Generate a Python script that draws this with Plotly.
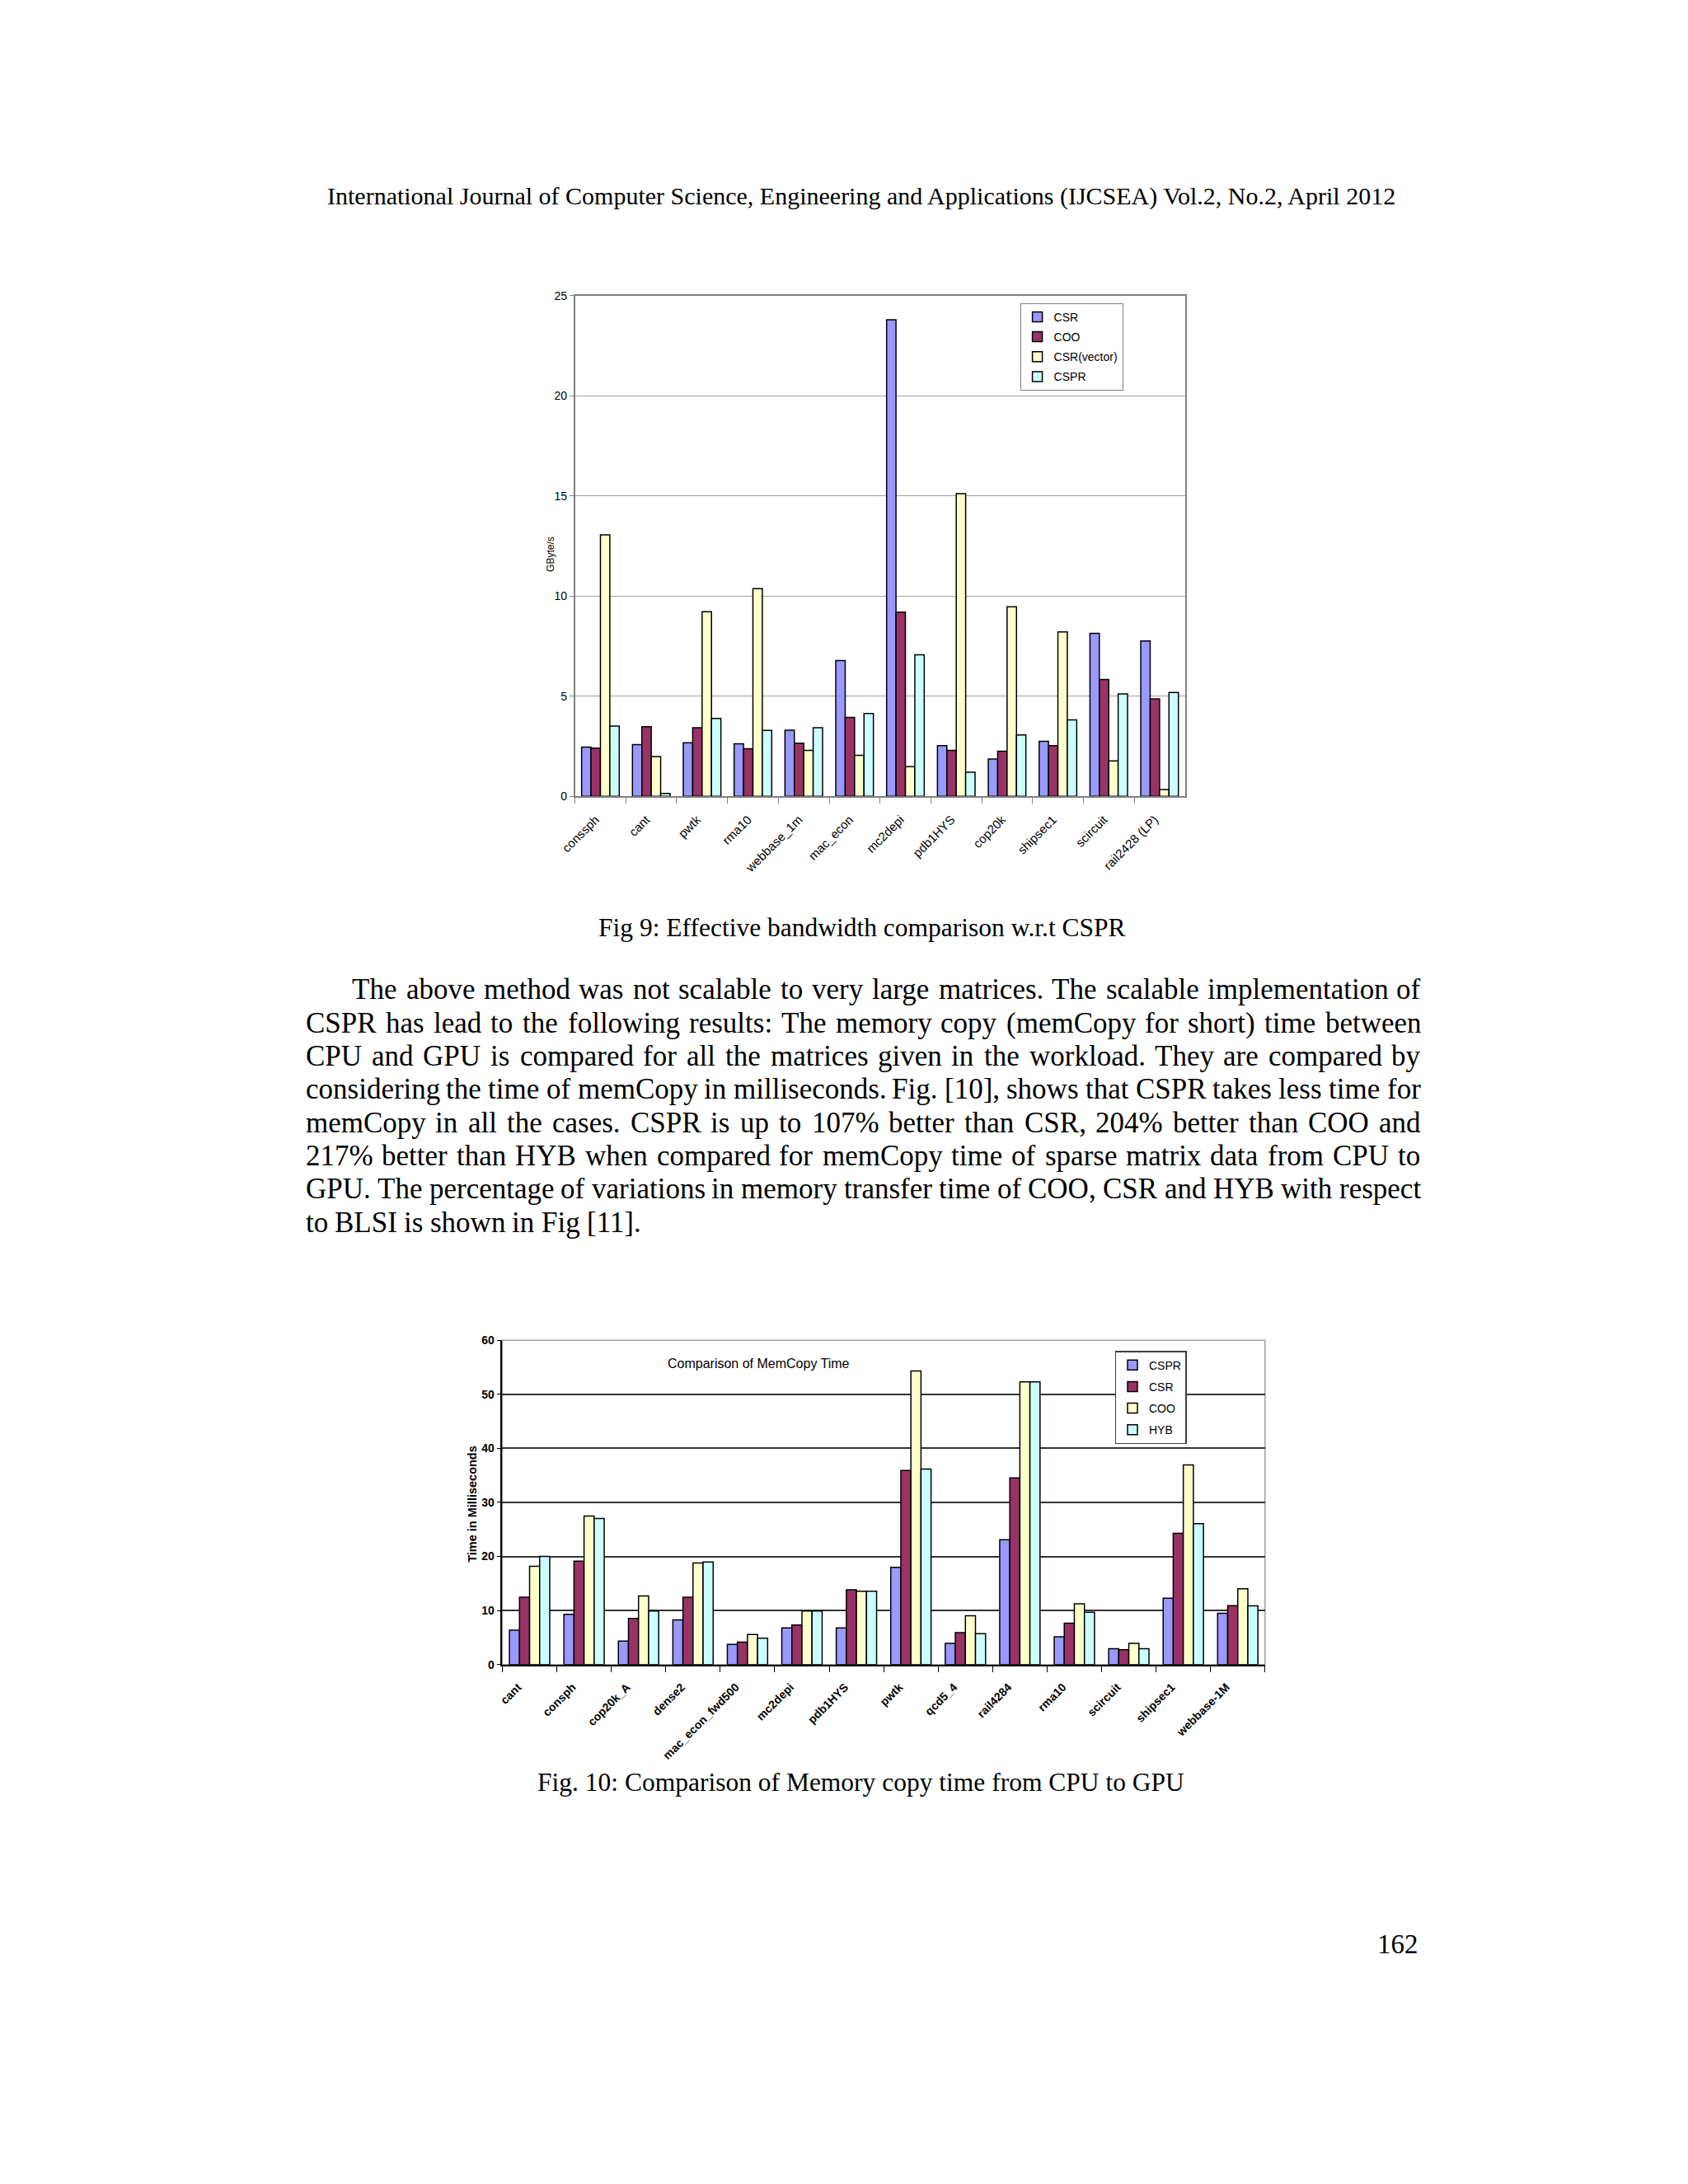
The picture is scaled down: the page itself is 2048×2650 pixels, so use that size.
import plotly.graph_objects as go

W, H = 2048, 2650

# ---------------- Fig 9 data ----------------
top_categories = ["conssph", "cant", "pwtk", "rma10", "webbase_1m", "mac_econ",
                  "mc2depi", "pdb1HYS", "cop20k", "shipsec1", "scircuit", "rail2428 (LP)"]
top_csr = [2.46, 2.58, 2.67, 2.62, 3.30, 6.78, 23.80, 2.53, 1.86, 2.74, 8.14, 7.76]
top_coo = [2.41, 3.48, 3.42, 2.37, 2.65, 3.94, 9.20, 2.29, 2.25, 2.53, 5.83, 4.87]
top_csr_vector = [13.06, 1.98, 9.22, 10.37, 2.29, 2.05, 1.48, 15.11, 9.46, 8.21, 1.77, 0.34]
top_cspr = [3.51, 0.14, 3.89, 3.29, 3.42, 4.13, 7.07, 1.20, 3.06, 3.82, 5.11, 5.18]
top_yticks = [0, 5, 10, 15, 20, 25]

# ---------------- Fig 10 data ----------------
bot_categories = ["cant", "consph", "cop20k_A", "dense2", "mac_econ_fwd500", "mc2depi",
                  "pdb1HYS", "pwtk", "qcd5_4", "rail4284", "rma10", "scircuit",
                  "shipsec1", "webbase-1M"]
bot_cspr = [6.36, 9.29, 4.34, 8.28, 3.74, 6.77, 6.77, 17.98, 3.94, 23.08, 5.15, 2.93, 12.27, 9.49]
bot_csr = [12.47, 19.14, 8.54, 12.47, 4.14, 7.32, 13.84, 35.90, 5.91, 34.55, 7.68, 2.73, 24.29, 10.91]
bot_coo = [18.18, 27.47, 12.68, 18.79, 5.56, 9.90, 13.59, 54.30, 9.04, 52.30, 11.26, 3.94, 36.92, 14.04]
bot_hyb = [20.00, 27.02, 9.90, 18.99, 4.90, 9.90, 13.59, 36.16, 5.71, 52.30, 9.70, 2.93, 26.06, 10.86]
bot_yticks = [0, 10, 20, 30, 40, 50, 60]

C_BLUE, C_MAROON, C_YELLOW, C_CYAN = "#9999FF", "#993366", "#FFFFCC", "#CCFFFF"

def px_x(x):
    return x / W

def px_y(y):
    return 1 - y / H

fig = go.Figure()

for name, vals, col in [("CSR", top_csr, C_BLUE), ("COO", top_coo, C_MAROON),
                        ("CSR(vector)", top_csr_vector, C_YELLOW), ("CSPR", top_cspr, C_CYAN)]:
    fig.add_trace(go.Bar(x=top_categories, y=vals, name=name, marker=dict(color=col, line=dict(color="#000000", width=1.5)),
                         xaxis="x", yaxis="y", legend="legend", legendgroup="t" + name))

for name, vals, col in [("CSPR", bot_cspr, C_BLUE), ("CSR", bot_csr, C_MAROON),
                        ("COO", bot_coo, C_YELLOW), ("HYB", bot_hyb, C_CYAN)]:
    fig.add_trace(go.Bar(x=bot_categories, y=vals, name=name, marker=dict(color=col, line=dict(color="#000000", width=1.5)),
                         xaxis="x2", yaxis="y2", legend="legend2", legendgroup="b" + name))

SANS = "Liberation Sans"
NARROW = "Liberation Sans Narrow, Liberation Sans"
SERIF = "Liberation Serif"

fig.update_layout(
    width=W, height=H, autosize=False,
    margin=dict(l=0, r=0, t=0, b=0),
    paper_bgcolor="white", plot_bgcolor="white",
    barmode="group", bargap=0.26, bargroupgap=0,
    xaxis=dict(domain=[px_x(685), px_x(1432)], anchor="y", type="category",
               showline=True, linecolor="#808080", linewidth=1.5, mirror=True,
               ticks="outside", tickson="boundaries", ticklen=7, tickcolor="#808080",
               tickangle=-45, tickfont=dict(family=SANS, size=15, color="#000"), showgrid=False,
               ticklabelstandoff=12, ticklabelshift=-6),
    yaxis=dict(domain=[px_y(964), px_y(353)], anchor="x", range=[0, 25], tickvals=top_yticks,
               showgrid=True, gridcolor="#a0a0a0", gridwidth=1.2, zeroline=False,
               showline=True, linecolor="#808080", linewidth=1.5, mirror=True,
               ticks="outside", ticklen=5, tickcolor="#808080",
               tickfont=dict(family=SANS, size=14, color="#000")),
    xaxis2=dict(domain=[px_x(596), px_x(1530)], anchor="y2", type="category",
                showline=True, linecolor="#000000", linewidth=1.5, mirror=False,
                ticks="outside", tickson="boundaries", ticklen=7, tickcolor="#000",
                tickangle=-45, tickfont=dict(family=SANS, size=14, color="#000", weight="bold"), showgrid=False,
                ticklabelstandoff=12, ticklabelshift=-14),
    yaxis2=dict(domain=[px_y(2024), px_y(1628)], anchor="x2", range=[0, 60], tickvals=bot_yticks,
                showgrid=True, gridcolor="#333333", gridwidth=1.8, zeroline=False,
                showline=True, linecolor="#000000", linewidth=1.5, mirror=False,
                ticks="outside", ticklen=5, tickcolor="#000",
                tickfont=dict(family=SANS, size=14, color="#000", weight="bold")),
    legend=dict(x=px_x(1230), y=px_y(362), xanchor="left", yanchor="top",
                bgcolor="white", bordercolor="#808080", borderwidth=1,
                font=dict(family=NARROW, size=14, color="#000"), itemwidth=30,
                traceorder="grouped", tracegroupgap=3),
    legend2=dict(x=px_x(1346), y=px_y(1641), xanchor="left", yanchor="top",
                 bgcolor="white", bordercolor="#404040", borderwidth=1.5,
                 font=dict(family=NARROW, size=14, color="#000"), itemwidth=30,
                 traceorder="grouped", tracegroupgap=5),
    showlegend=True,
)

# light border of bottom plot area (top/right)
fig.add_shape(type="rect", xref="x2 domain", yref="y2 domain", x0=0, x1=1, y0=0, y1=1,
              line=dict(color="#a0a0a0", width=1.5), layer="below")

ann = []

def text(x, y, s, size, family=SERIF, xanchor="center", angle=0, weight="normal"):
    ann.append(dict(x=px_x(x), y=px_y(y), xref="paper", yref="paper", text=s, showarrow=False,
                    xanchor=xanchor, yanchor="middle", textangle=angle, borderpad=0, borderwidth=0,
                    font=dict(family=family, size=size, color="#000", weight=weight)))

text(1036, 231, "International Journal of Computer Science, Engineering and Applications (IJCSEA) Vol.2, No.2, April 2012", 30)
text(1037, 1124, "Fig 9: Effective bandwidth comparison w.r.t CSPR", 31.5)
text(1035, 2168, "Fig. 10: Comparison of Memory copy time from CPU to GPU", 31.5)
text(1718, 2365, "162", 33, xanchor="right")

text(655, 668, "GByte/s", 12, family=SANS, angle=-90)
text(559, 1828, "Time in Milliseconds", 14.5, family=SANS, angle=-90, weight="bold")
text(910, 1657, "Comparison of MemCopy Time", 16, family=NARROW)

# ---------------- justified paragraph ----------------
TW = {' ': 250, 'a': 444, 'b': 500, 'c': 444, 'd': 500, 'e': 444, 'f': 333, 'g': 500, 'h': 500,
      'i': 278, 'j': 278, 'k': 500, 'l': 278, 'm': 778, 'n': 500, 'o': 500, 'p': 500, 'q': 500,
      'r': 333, 's': 389, 't': 278, 'u': 500, 'v': 500, 'w': 722, 'x': 500, 'y': 500, 'z': 444,
      'A': 722, 'B': 667, 'C': 667, 'D': 722, 'E': 611, 'F': 556, 'G': 722, 'H': 722, 'I': 333,
      'J': 389, 'K': 722, 'L': 611, 'M': 889, 'N': 722, 'O': 722, 'P': 556, 'Q': 722, 'R': 667,
      'S': 556, 'T': 611, 'U': 722, 'V': 722, 'W': 944, 'X': 722, 'Y': 722, 'Z': 611,
      '.': 250, ',': 250, ':': 278, ';': 278, '(': 333, ')': 333, '[': 333, ']': 333,
      '%': 833, '-': 333, '_': 500}

def em(s):
    return sum(TW.get(c, 500) for c in s) / 1000.0

para = [
    "The above method was not scalable to very large matrices. The scalable implementation of",
    "CSPR has lead to the following results:  The memory copy (memCopy for short) time between",
    "CPU and GPU is compared for all the matrices given in the workload. They are compared by",
    "considering the time of memCopy in milliseconds. Fig. [10], shows that CSPR takes less time for",
    "memCopy in all the cases. CSPR is up to 107% better than CSR, 204% better than COO and",
    "217% better than HYB when compared for memCopy time of sparse matrix data from CPU to",
    "GPU. The percentage of variations in memory transfer time of COO, CSR and HYB with respect",
    "to BLSI is shown in Fig [11].",
]
FS = 35
L, R = 355, 1720
for i, line in enumerate(para):
    y = 1200 + i * 40.6
    left = L + (57 if i == 0 else 0)
    words = line.split()
    widths = [em(w) * FS for w in words]
    if i == len(para) - 1:
        gap = em(' ') * FS
    else:
        gap = (R - left - sum(widths)) / (len(words) - 1)
    x = left
    for w, wd in zip(words, widths):
        ann.append(dict(x=px_x(x), y=px_y(y), xref="paper", yref="paper", text=w, showarrow=False,
                        xanchor="left", yanchor="middle", borderpad=0, borderwidth=0,
                        font=dict(family=SERIF, size=FS, color="#000")))
        x += wd + gap

fig.update_layout(annotations=ann)
fig.write_html("out.html", config={"displayModeBar": False},
               post_script="document.body.style.margin='0';document.body.style.overflow='hidden';")
